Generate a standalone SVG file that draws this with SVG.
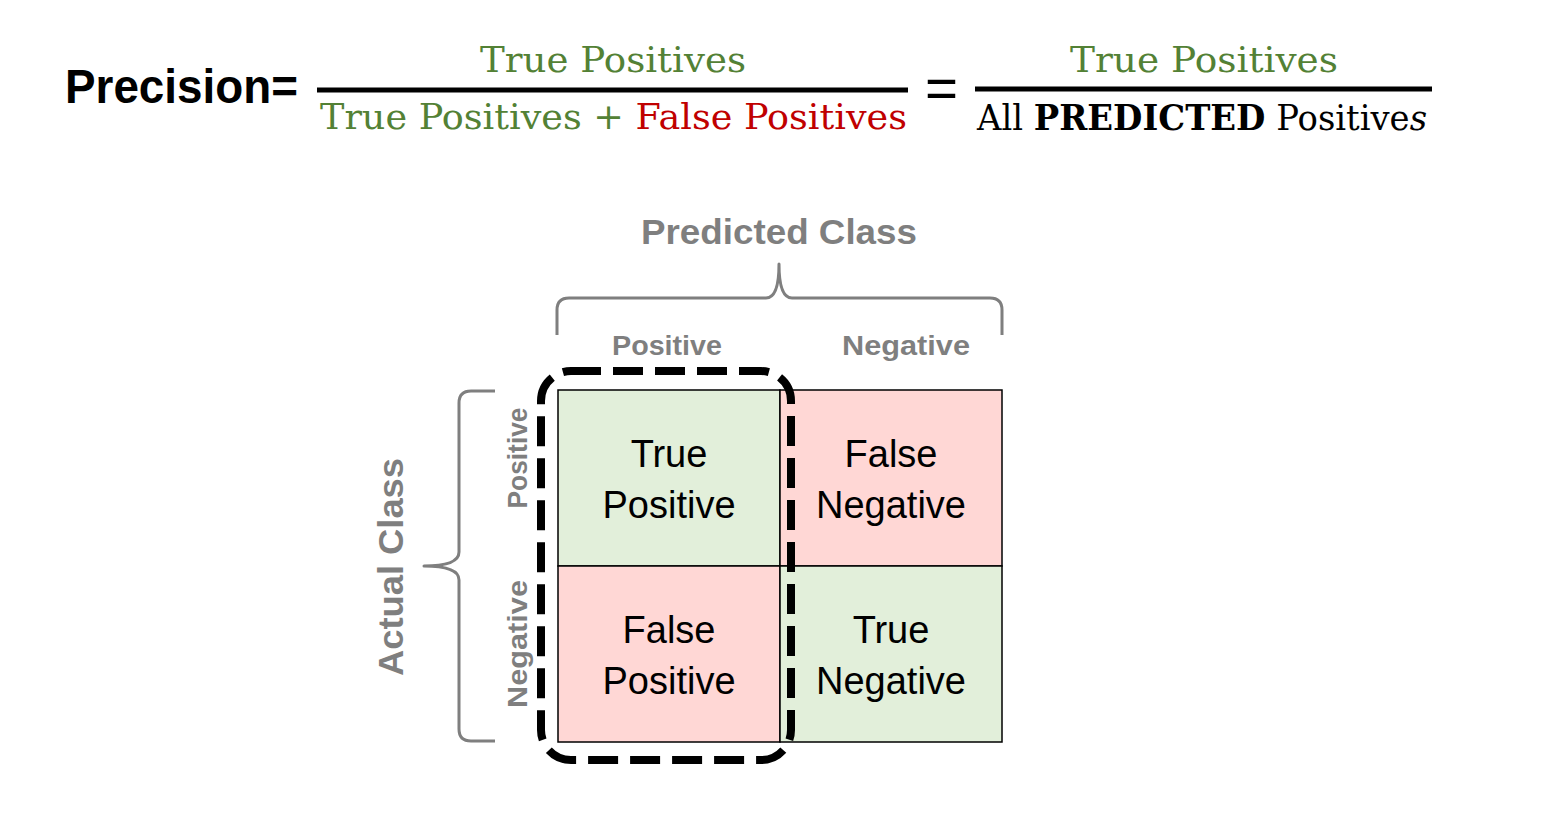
<svg xmlns="http://www.w3.org/2000/svg" width="1562" height="814" viewBox="0 0 1562 814">
<style>
.serif{font-family:"DejaVu Serif","Liberation Serif",serif;font-size:36px}
.g{fill:#538135}
.r{fill:#C00000}
.k{fill:#000000}
.cell{font-family:"Liberation Sans",Arial,sans-serif;font-size:38px;fill:#000;text-anchor:middle}
.lab{font-family:"Liberation Sans",Arial,sans-serif;font-weight:bold;fill:#7F7F7F;text-anchor:middle}
.green{fill:#E2EFDA;stroke:#000;stroke-width:1.5}
.red{fill:#FFD7D5;stroke:#000;stroke-width:1.5}
.brace{fill:none;stroke:#7F7F7F;stroke-width:3;stroke-linejoin:round}
.bar{stroke:#000;stroke-width:5}
</style>
<rect width="1562" height="814" fill="#ffffff"/>
<g id="formula">
<text x="65" y="103" font-family="'Liberation Sans',Arial,sans-serif" font-weight="bold" font-size="49" textLength="233" lengthAdjust="spacingAndGlyphs">Precision=</text>
<line class="bar" x1="317" y1="90" x2="908" y2="90"/>
<text class="serif g" x="480" y="72" textLength="266" lengthAdjust="spacingAndGlyphs">True Positives</text>
<text class="serif" x="320" y="129" textLength="587" lengthAdjust="spacingAndGlyphs"><tspan class="g">True Positives + </tspan><tspan class="r">False Positives</tspan></text>
<text x="925" y="108" font-family="'Liberation Sans',Arial,sans-serif" font-size="58" textLength="33" lengthAdjust="spacingAndGlyphs">=</text>
<line class="bar" x1="975" y1="89" x2="1432" y2="89"/>
<text class="serif g" x="1070" y="72" textLength="268" lengthAdjust="spacingAndGlyphs">True Positives</text>
<text class="serif k" x="977" y="130" textLength="450" lengthAdjust="spacingAndGlyphs">All <tspan font-weight="bold">PREDICTED</tspan> Positive<tspan font-style="italic">s</tspan></text>
</g>
<g id="predicted-class">
<text class="lab" x="779" y="244" font-size="35" textLength="276" lengthAdjust="spacingAndGlyphs">Predicted Class</text>
<text class="lab" x="667" y="355" font-size="27" textLength="110" lengthAdjust="spacingAndGlyphs">Positive</text>
<text class="lab" x="906" y="355" font-size="27" textLength="128" lengthAdjust="spacingAndGlyphs">Negative</text>
</g>
<g id="actual-class">
<text class="lab" transform="translate(403,567) rotate(-90)" font-size="35" textLength="218" lengthAdjust="spacingAndGlyphs">Actual Class</text>
<text class="lab" transform="translate(527,458) rotate(-90)" font-size="27" textLength="101" lengthAdjust="spacingAndGlyphs">Positive</text>
<text class="lab" transform="translate(527,644) rotate(-90)" font-size="27" textLength="128" lengthAdjust="spacingAndGlyphs">Negative</text>
</g>
<g id="connectors">
<path class="brace" d="M557,335 L557,310 Q557,298 569,298 L766,298 Q779,298 779,264 Q779,298 792,298 L990,298 Q1002,298 1002,310 L1002,335"/>
<path class="brace" d="M495,391 L471,391 Q459,391 459,403 L459,552 Q459,566 424,566 Q459,566 459,580 L459,729 Q459,741 471,741 L495,741"/>
</g>
<g id="cell-tp">
<rect class="green" x="558" y="390" width="222" height="176"/>
<text class="cell" x="669" y="467">True</text>
<text class="cell" x="669" y="518">Positive</text>
</g>
<g id="cell-fn">
<rect class="red" x="780" y="390" width="222" height="176"/>
<text class="cell" x="891" y="467">False</text>
<text class="cell" x="891" y="518">Negative</text>
</g>
<g id="cell-fp">
<rect class="red" x="558" y="566" width="222" height="176"/>
<text class="cell" x="669" y="643">False</text>
<text class="cell" x="669" y="694">Positive</text>
</g>
<g id="cell-tn">
<rect class="green" x="780" y="566" width="222" height="176"/>
<text class="cell" x="891" y="643">True</text>
<text class="cell" x="891" y="694">Negative</text>
</g>
<g id="highlight">
<rect x="541" y="371" width="250" height="389" rx="30" ry="30" fill="none" stroke="#000" stroke-width="8" stroke-dasharray="30 12"/>
</g>
</svg>
